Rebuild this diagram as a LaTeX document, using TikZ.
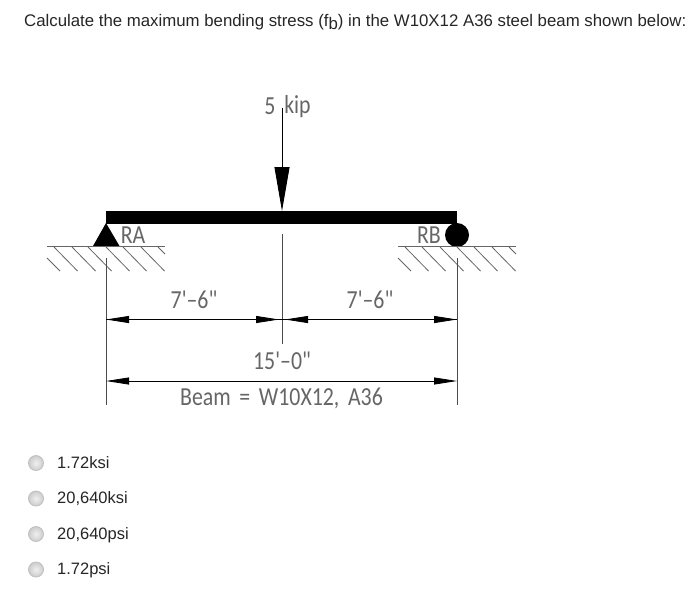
\documentclass[tikz,border=0pt]{standalone}
\usepackage{graphicx}
\usepackage{fontspec}
\setmainfont{Liberation Sans}
\newfontfamily\cadfont{Carlito}
\usetikzlibrary{arrows.meta}

\definecolor{cadgray}{HTML}{666666}

\newcommand{\cadlabel}[1]{\scalebox{0.84}[1]{#1}}

\tikzset{
	question/.style={anchor=base west,inner sep=0pt,text=black!85,font=\fontsize{16.8}{18}\selectfont},
	answer/.style={anchor=base west,inner sep=0pt,text=black!85,font=\fontsize{16.5}{18}\selectfont},
	radio/.style={circle,minimum size=15pt,inner sep=0pt,draw=black!25,line width=0.8pt,inner color=black!6,outer color=black!20},
	cadtext/.style={inner sep=0pt,text=cadgray,font=\cadfont\fontsize{26}{28}\selectfont},
	hatch/.style={black!60,line width=0.8pt},
	dimline/.style={black!70,line width=0.8pt},
	dimtip/.style={-{Triangle[length=23pt,width=7pt]},black,line width=0.8pt},
}

\begin{document}
\begin{tikzpicture}[x=1pt,y=-1pt]
	\useasboundingbox (0,0) rectangle (700,606);
	\fill[white] (0,0) rectangle (700,606);
	\node[question] (title) at (24,26) {Calculate the maximum bending stress (f\raisebox{-3pt}{b}) in the W10X12 A36 steel beam shown below:};
	% beam and supports
	\fill[black] (106,211) rectangle (457,223.5);
	\fill[black] (106,223) -- (119.5,246) -- (93,246) -- cycle;
	\fill[black] (457,235) circle [radius=12];
	\node[cadtext] (labelRA) at (133,235) {\cadlabel{RA}};
	\node[cadtext] (labelRB) at (429,235) {\cadlabel{RB}};
	% ground
	\draw[hatch] (47,246) -- (165,246);
	\draw[hatch] (398,246) -- (516,246);
	\foreach \x in {54,72,88,106,123,141,405,422,440,457,474,492} {
		\draw[hatch] (\x,247) -- ({\x+23.5},271);
	}
	\draw[hatch] (47,258) -- (60,271);
	\draw[hatch] (158,247) -- (165,254);
	\draw[hatch] (398,258) -- (411,271);
	\draw[hatch] (509,247) -- (516,254);
	% load
	\coordinate (loadTop) at (282,108);
	\coordinate (loadTip) at (282,211);
	\draw[-{Triangle[length=44pt,width=15pt]},black,line width=0.9pt] (loadTop) -- (loadTip);
	\node[cadtext] (labelFive) at (270,106) {\cadlabel{5}};
	\node[cadtext] (labelKip) at (297.5,107) {\cadlabel{kip}};
	% extension lines
	\coordinate (extLeftTop) at (106,258);
	\coordinate (extLeftEnd) at (106,405);
	\coordinate (extMidTop) at (282,234);
	\coordinate (extMidEnd) at (282,344);
	\coordinate (extRightTop) at (457,258);
	\coordinate (extRightEnd) at (457,405);
	\draw[dimline] (extLeftTop) -- (extLeftEnd);
	\draw[dimline] (extMidTop) -- (extMidEnd);
	\draw[dimline] (extRightTop) -- (extRightEnd);
	% dimensions
	\coordinate (dimLeft) at (106,319.5);
	\coordinate (dimMidL) at (279,319.5);
	\coordinate (dimMidR) at (285,319.5);
	\coordinate (dimRight) at (457,319.5);
	\coordinate (dimSpan) at (282,319.5);
	\coordinate (dimAllL) at (106,381);
	\coordinate (dimAllM) at (282,381);
	\coordinate (dimAllR) at (457,381);
	\draw[dimtip] (dimSpan) -- (dimLeft);
	\draw[dimtip] (dimSpan) -- (dimRight);
	\draw[dimtip] (dimLeft) -- (dimMidL);
	\draw[dimtip] (dimRight) -- (dimMidR);
	\draw[dimtip] (dimAllM) -- (dimAllL);
	\draw[dimtip] (dimAllM) -- (dimAllR);
	\node[cadtext] (labelLeft) at (194,300) {\cadlabel{7'–6"}};
	\node[cadtext] (labelRight) at (370,300) {\cadlabel{7'–6"}};
	\node[cadtext] (labelSpan) at (282,361) {\cadlabel{15'–0"}};
	\node[cadtext] (labelBeam) at (281.5,398) {\cadlabel{Beam\, =\, W10X12,\, A36}};
	% answers
	\node[radio] (radioA) at (36,463) {};
	\node[answer] (answerA) at (57,468) {1.72ksi};
	\node[radio] (radioB) at (36,498.5) {};
	\node[answer] (answerB) at (57,503.5) {20,640ksi};
	\node[radio] (radioC) at (36,534) {};
	\node[answer] (answerC) at (57,539) {20,640psi};
	\node[radio] (radioD) at (36,569.5) {};
	\node[answer] (answerD) at (57,574.5) {1.72psi};
\end{tikzpicture}
\end{document}
